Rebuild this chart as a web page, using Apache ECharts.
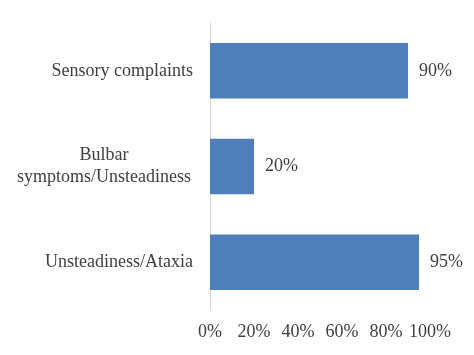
<!DOCTYPE html>
<html>
<head>
<meta charset="utf-8">
<script src="https://cdn.jsdelivr.net/npm/echarts@6/dist/echarts.min.js"></script>
<style>
html,body{margin:0;padding:0;background:#fff;}
#chart{width:474px;height:355px;}
</style>
</head>
<body>
<div id="chart"></div>
<script>
// Categories listed bottom to top (ECharts category y-axis starts at bottom)
const categories = ['Unsteadiness/Ataxia', 'Bulbar\nsymptoms/Unsteadiness', 'Sensory complaints'];
const values = [95, 20, 90];
const xTicks = [0, 20, 40, 60, 80, 100];

const font = '"Liberation Serif", "Times New Roman", serif';
const textColor = '#404040';

const chart = echarts.init(document.getElementById('chart'), null, {renderer: 'canvas'});
chart.setOption({
  animation: false,
  backgroundColor: '#ffffff',
  grid: {left: 210, right: 44, top: 23, bottom: 45, containLabel: false},
  xAxis: {
    type: 'value',
    min: xTicks[0],
    max: xTicks[xTicks.length - 1],
    interval: xTicks[1] - xTicks[0],
    axisLine: {show: false},
    axisTick: {show: false},
    splitLine: {show: false},
    axisLabel: {
      formatter: v => v + '%',
      fontFamily: font,
      fontSize: 18,
      color: textColor,
      margin: 13
    }
  },
  yAxis: {
    type: 'category',
    data: categories,
    axisLine: {show: true, lineStyle: {color: '#d9d9d9', width: 1}},
    axisTick: {show: false},
    axisLabel: {
      fontFamily: font,
      fontSize: 18,
      color: textColor,
      margin: 17,
      lineHeight: 22,
      formatter: function (v) {
        if (v.indexOf('\n') >= 0) {
          return v.split('\n').map(s => '{c|' + s + '}').join('\n');
        }
        return v;
      },
      rich: {
        c: {width: 178, align: 'center', fontFamily: font, fontSize: 18, color: textColor, lineHeight: 22}
      }
    }
  },
  series: [{
    type: 'bar',
    data: values,
    barCategoryGap: '42%',
    itemStyle: {color: '#4f80bd'},
    label: {
      show: true,
      position: 'right',
      distance: 11,
      formatter: p => p.value + '%',
      fontFamily: font,
      fontSize: 18,
      color: textColor
    }
  }]
});
</script>
</body>
</html>
